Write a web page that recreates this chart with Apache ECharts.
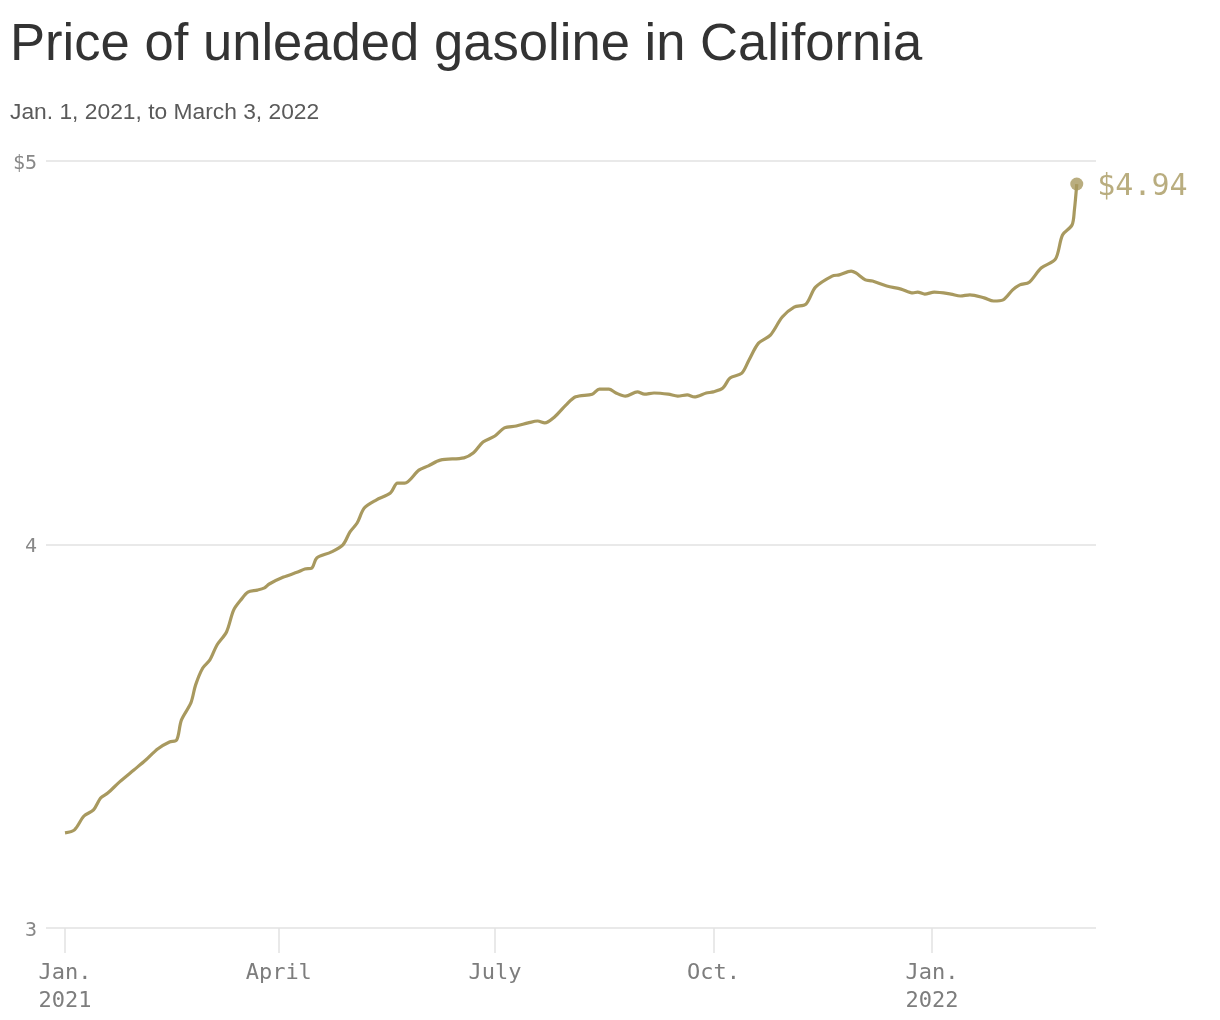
<!DOCTYPE html>
<html>
<head>
<meta charset="utf-8">
<script src="https://cdn.jsdelivr.net/npm/echarts@6/dist/echarts.min.js"></script>
<style>html,body{margin:0;padding:0;background:#fff}#c{width:1220px;height:1020px}</style>
</head>
<body>
<div id="c"></div>
<script>
const titleText = 'Price of unleaded gasoline in California';
const subtitleText = 'Jan. 1, 2021, to March 3, 2022';

const dates = [
  '2021-01-01','2021-01-05','2021-01-09','2021-01-13','2021-01-16','2021-01-19','2021-01-24','2021-01-30',
  '2021-02-04','2021-02-09','2021-02-14','2021-02-17','2021-02-19','2021-02-23','2021-02-25','2021-02-28',
  '2021-03-03','2021-03-06','2021-03-10','2021-03-13','2021-03-16','2021-03-19','2021-03-23','2021-03-26',
  '2021-03-28','2021-04-03','2021-04-09','2021-04-12','2021-04-15','2021-04-17','2021-04-23','2021-04-28',
  '2021-05-01','2021-05-04','2021-05-07','2021-05-12','2021-05-18','2021-05-21','2021-05-24','2021-05-30',
  '2021-06-03','2021-06-08','2021-06-18','2021-06-22','2021-06-26','2021-07-01','2021-07-05','2021-07-10',
  '2021-07-15','2021-07-19','2021-07-22','2021-07-26','2021-07-31','2021-08-04','2021-08-11','2021-08-14',
  '2021-08-18','2021-08-21','2021-08-25','2021-08-30','2021-09-02','2021-09-06','2021-09-12','2021-09-16',
  '2021-09-20','2021-09-23','2021-09-28','2021-10-01','2021-10-05','2021-10-08','2021-10-13','2021-10-16',
  '2021-10-20','2021-10-25','2021-10-30','2021-11-04','2021-11-09','2021-11-13','2021-11-20','2021-11-23',
  '2021-11-28','2021-11-30','2021-12-04','2021-12-07','2021-12-13','2021-12-19','2021-12-24','2021-12-26',
  '2021-12-29','2022-01-02','2022-01-09','2022-01-13','2022-01-17','2022-01-23','2022-01-27','2022-01-31',
  '2022-02-04','2022-02-07','2022-02-11','2022-02-16','2022-02-22','2022-02-25','2022-03-01','2022-03-02',
  '2022-03-03'
];
const prices = [
  3.248,3.256,3.292,3.308,3.339,3.352,3.381,3.412,
  3.438,3.467,3.485,3.490,3.542,3.587,3.634,3.678,
  3.699,3.738,3.772,3.829,3.855,3.876,3.881,3.887,
  3.897,3.915,3.928,3.936,3.939,3.965,3.980,3.999,
  4.033,4.056,4.095,4.116,4.134,4.160,4.160,4.194,
  4.205,4.220,4.226,4.239,4.267,4.283,4.304,4.309,
  4.317,4.322,4.317,4.332,4.364,4.385,4.392,4.405,
  4.405,4.395,4.387,4.398,4.392,4.395,4.392,4.387,
  4.390,4.385,4.395,4.398,4.408,4.434,4.447,4.481,
  4.525,4.546,4.593,4.619,4.627,4.671,4.700,4.703,
  4.713,4.708,4.690,4.687,4.674,4.666,4.656,4.658,
  4.653,4.658,4.653,4.648,4.651,4.643,4.635,4.638,
  4.664,4.677,4.684,4.721,4.744,4.807,4.833,4.872,
  4.94
];

const xTickDates = ['2021-01-01','2021-04-01','2021-07-01','2021-10-01','2022-01-01'];
const xTickLabels = ['Jan.\n2021','April','July','Oct.','Jan.\n2022'];
const yTickValues = [3, 4, 5];
const yTickLabels = ['3', '4', '$5'];

const DAY = 86400000;
const origin = Date.parse('2021-01-01');
const toDay = s => (Date.parse(s) - origin) / DAY;

const lineData = dates.map((d, i) => [toDay(d), prices[i]]);
const last = lineData[lineData.length - 1];
const tickDays = xTickDates.map(toDay);

const color = '#a8995f';
const mono = '"DejaVu Sans Mono", "Liberation Mono", monospace';

const chart = echarts.init(document.getElementById('c'), null, {renderer: 'canvas'});
chart.setOption({
  animation: false,
  backgroundColor: '#fff',
  title: [
    {text: titleText, left: 10, top: 19, padding: 0,
     textStyle: {fontFamily: '"Liberation Sans", Arial, sans-serif', fontSize: 52.6, fontWeight: 'normal', color: '#333'}},
    {text: subtitleText, left: 10, top: 101, padding: 0,
     textStyle: {fontFamily: '"Liberation Sans", Arial, sans-serif', fontSize: 22.8, fontWeight: 'normal', color: '#5a5a5a'}}
  ],
  grid: {left: 46, right: 124, top: 161, bottom: 92, containLabel: false},
  xAxis: {
    type: 'value',
    min: -8,
    max: 434.1,
    axisLine: {show: false},
    splitLine: {show: false},
    axisTick: {show: true, customValues: tickDays, length: 25, lineStyle: {color: '#e2e2e2', width: 1.5}},
    axisLabel: {
      show: true,
      customValues: tickDays,
      margin: 31,
      fontFamily: mono,
      fontSize: 22,
      lineHeight: 28,
      color: '#7d7d7d',
      formatter: v => {
        const i = tickDays.indexOf(v);
        return i >= 0 ? xTickLabels[i] : '';
      }
    }
  },
  yAxis: {
    type: 'value',
    min: 3,
    max: 5,
    interval: 1,
    axisLine: {show: false},
    axisTick: {show: false},
    splitLine: {show: true, lineStyle: {color: '#e2e2e2', width: 1.5}},
    axisLabel: {
      margin: 9,
      formatter: v => {
        const i = yTickValues.indexOf(v);
        return i >= 0 ? '{a|' + yTickLabels[i] + '}' : '';
      },
      rich: {
        a: {fontFamily: mono, fontSize: 20, color: '#888', padding: [5, 0, 0, 0]}
      }
    }
  },
  series: [
    {
      type: 'line',
      data: lineData,
      showSymbol: false,
      smooth: 0.3,
      lineStyle: {color: color, width: 3.2},
      z: 3
    },
    {
      type: 'scatter',
      data: [last],
      symbolSize: 13,
      itemStyle: {color: color},
      label: {
        show: true,
        position: 'right',
        distance: 14,
        offset: [0, 3],
        fontFamily: mono,
        fontSize: 30,
        color: color,
        formatter: p => '$' + p.value[1].toFixed(2)
      },
      z: 4
    }
  ]
});
</script>
</body>
</html>
